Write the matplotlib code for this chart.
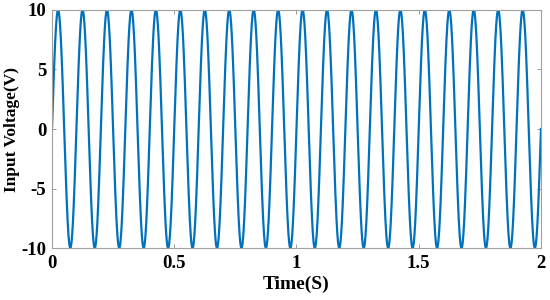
import numpy as np
import matplotlib
matplotlib.use("Agg")
import matplotlib.pyplot as plt

# signal: 10 V peak, 10 cycles per second, 0..2 s
AMPLITUDE = 10.0
FREQUENCY = 10.0
T_END = 2.0
N_SAMPLES = 4001

X_TICKS = [0, 0.5, 1, 1.5, 2]
X_TICK_LABELS = ["0", "0.5", "1", "1.5", "2"]
Y_TICKS = [-10, -5, 0, 5, 10]
Y_TICK_LABELS = ["-10", "-5", "0", "5", "10"]

t = np.linspace(0.0, T_END, N_SAMPLES)
v = AMPLITUDE * np.sin(2 * np.pi * FREQUENCY * t)

plt.rcParams["font.family"] = ["Liberation Serif", "DejaVu Serif"]
plt.rcParams["font.weight"] = "bold"

fig = plt.figure(figsize=(5.5, 3.0), dpi=100)
ax = fig.add_axes([0.0945, 0.1733, 0.8891, 0.7934])
ax.plot(t, v, color="#0072BD", linewidth=1.6)

ax.set_xlim(0, T_END)
ax.set_ylim(-10, 10)
ax.set_xticks(X_TICKS)
ax.set_xticklabels(X_TICK_LABELS)
ax.set_yticks(Y_TICKS)
ax.set_yticklabels(Y_TICK_LABELS)
ax.set_xlabel("Time(S)", fontsize=14, fontweight="bold", labelpad=3)
ax.set_ylabel("Input Voltage(V)", fontsize=12.5, fontweight="bold", labelpad=1)

ax.tick_params(direction="in", top=True, right=True, length=3, width=0.6,
               color="#8a8a8a", labelsize=13.5)
ax.tick_params(axis="x", pad=5)
ax.tick_params(axis="y", pad=4)
for spine in ax.spines.values():
    spine.set_color("#a0a0a0")
    spine.set_linewidth(0.8)

fig.savefig("out.png", dpi=100)
